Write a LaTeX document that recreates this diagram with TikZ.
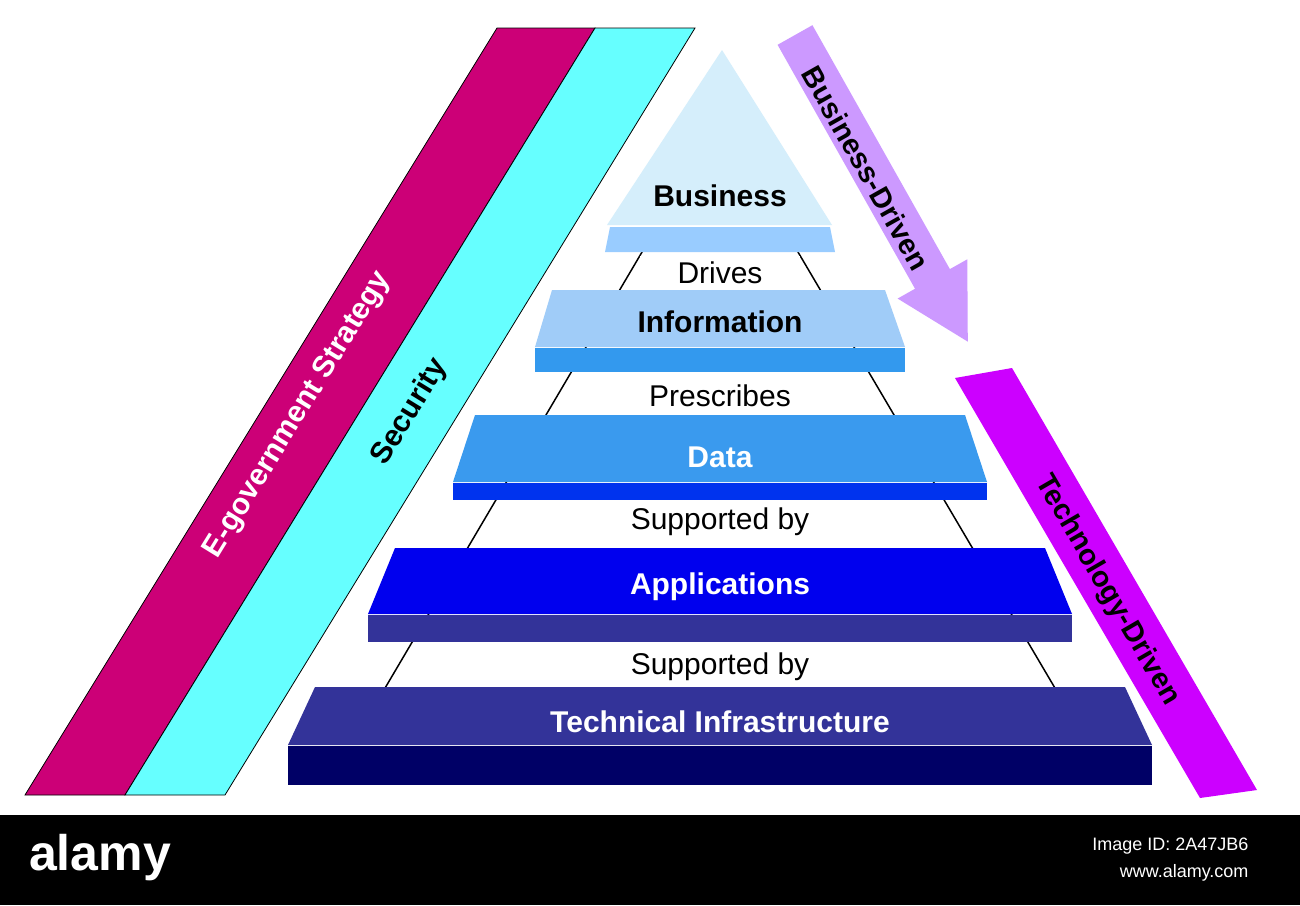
\documentclass[tikz,border=0pt]{standalone}
\usepackage{fontspec}
\setmainfont{Liberation Sans}
\definecolor{cMag}{RGB}{204,0,119}
\definecolor{cCyan}{RGB}{102,255,255}
\definecolor{cT1}{RGB}{213,238,251}
\definecolor{cT1s}{RGB}{153,204,255}
\definecolor{cT2}{RGB}{160,204,248}
\definecolor{cT2s}{RGB}{51,153,238}
\definecolor{cT3}{RGB}{58,154,238}
\definecolor{cT3s}{RGB}{0,51,238}
\definecolor{cT4}{RGB}{0,0,238}
\definecolor{cT4s}{RGB}{51,51,153}
\definecolor{cT5}{RGB}{51,51,153}
\definecolor{cT5s}{RGB}{0,0,102}
\definecolor{cArr}{RGB}{204,153,255}
\definecolor{cTech}{RGB}{204,0,255}
\begin{document}
\begin{tikzpicture}[x=1pt,y=-1pt,
  band/.style={draw=black,line width=0.8pt},
  lbl/.style={font=\fontsize{30}{32}\selectfont},
  blbl/.style={font=\bfseries\fontsize{30}{32}\selectfont}]
\fill[white] (0,0) rectangle (1300,905);
\useasboundingbox (0,0) rectangle (1300,905);
% left bands
\filldraw[band,fill=cMag] (25,795)--(125,795)--(595,28)--(497,28)--cycle;
\filldraw[band,fill=cCyan] (125,795)--(225,795)--(695,28)--(595,28)--cycle;
\node[blbl,text=white,rotate=58.4] (egov) at (298,415) {E-government Strategy};
\node[blbl,rotate=58.4] (sec) at (410,412) {Security};
% pyramid side lines
\draw[line width=1.5pt] (655,230)--(378,700);
\draw[line width=1.5pt] (785,230)--(1062,700);
% tiers
\fill[cT1] (722,50)--(832,225)--(607,225)--cycle;
\fill[cT1s] (610,227)--(830,227)--(835,252)--(605,252)--cycle;
\fill[white] (640,256) rectangle (800,287);
\fill[cT2] (552,290)--(885,290)--(905,347)--(535,347)--cycle;
\fill[cT2s] (535,348)--(905,348)--(905,372)--(535,372)--cycle;
\fill[white] (580,376) rectangle (860,412);
\fill[cT3] (475,415)--(965,415)--(987,482)--(453,482)--cycle;
\fill[cT3s] (453,483)--(987,483)--(987,500)--(453,500)--cycle;
\fill[white] (500,504) rectangle (940,545);
\fill[cT4] (395,548)--(1045,548)--(1072,614)--(368,614)--cycle;
\fill[cT4s] (368,615)--(1072,615)--(1072,642)--(368,642)--cycle;
\fill[white] (420,646) rectangle (1020,684);
\fill[cT5] (315,687)--(1125,687)--(1152,745)--(288,745)--cycle;
\fill[cT5s] (288,746)--(1152,746)--(1152,785)--(288,785)--cycle;
% labels
\node[blbl] (bus) at (720,196) {Business};
\node[lbl] (drv) at (720,273) {Drives};
\node[blbl] (inf) at (720,322) {Information};
\node[lbl] (pre) at (720,396) {Prescribes};
\node[blbl,text=white] (dat) at (720,457) {Data};
\node[lbl] (sup1) at (720,522) {Supported by};
\node[blbl,text=white] (app) at (720,587) {Applications};
\node[lbl] (sup2) at (720,667) {Supported by};
\node[blbl,text=white] (tec) at (720,722) {Technical Infrastructure};
% business-driven arrow
\begin{scope}[shift={(795,35)},rotate=-60.6]
\fill[cArr] (0,-20)--(280,-20)--(280,-40)--(352,0)--(280,40)--(280,20)--(0,20)--cycle;
\end{scope}
\node[rotate=-60.6,font=\bfseries\fontsize{29}{31}\selectfont] (bd) at (866,168) {Business-Driven};
% technology-driven band
\fill[cTech] (955,378)--(1012,368)--(1257,790)--(1200,798)--cycle;
\node[rotate=-59.8,font=\bfseries\fontsize{29}{31}\selectfont] (td) at (1107,590) {Technology-Driven};
% watermark bar
\fill[black] (0,815) rectangle (1300,905);
\node[text=white,font=\bfseries\fontsize{50}{52}\selectfont] (al) at (100,858) {alamy};
\node[text=white,anchor=east,font=\fontsize{18}{20}\selectfont] (id) at (1252,846) {Image ID: 2A47JB6};
\node[text=white,anchor=east,font=\fontsize{18}{20}\selectfont] (www) at (1252,873) {www.alamy.com};
\end{tikzpicture}
\end{document}
